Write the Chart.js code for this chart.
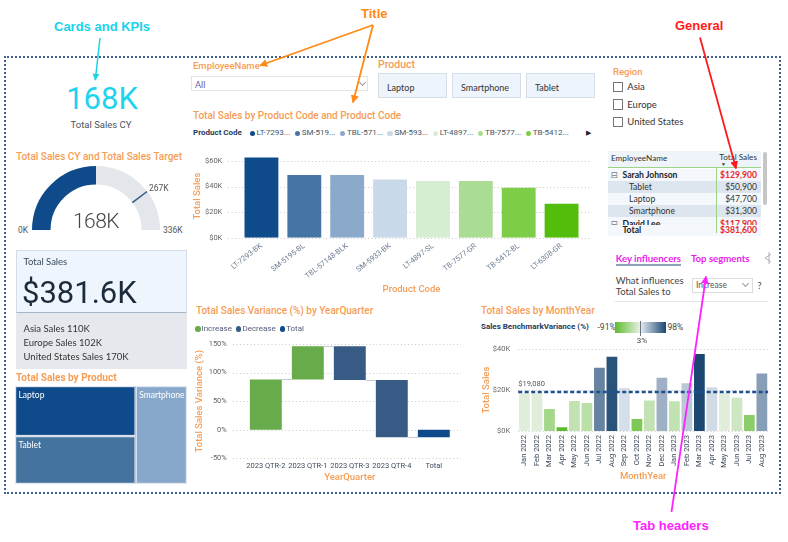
<!DOCTYPE html>
<html><head><meta charset="utf-8">
<script src="https://cdn.jsdelivr.net/npm/chart.js@4.4.1/dist/chart.umd.min.js"></script>
<style>
html,body{margin:0;padding:0;background:#fff;}
body{width:788px;height:542px;position:relative;overflow:hidden;font-family:Lato,'Open Sans',sans-serif;color:#333;}
.t{position:absolute;white-space:nowrap;line-height:1;transform:translateY(-50%);}
canvas{position:absolute;}
.box{position:absolute;box-sizing:border-box;}
.chev{position:absolute;width:4px;height:4px;border-right:1px solid #999;border-bottom:1px solid #999;transform:rotate(45deg);}
</style></head><body>
<div class="box" style="left:4px;top:56px;width:777px;height:438px;border:2px dotted #3f5f8c;"></div>
<canvas id="cGauge" width="128" height="64" style="left:32px;top:166px"></canvas>
<canvas id="cTree" width="172" height="98" style="left:15px;top:386px"></canvas>
<canvas id="cBar" width="410" height="145" style="left:190px;top:150px"></canvas>
<canvas id="cWf" width="285" height="146" style="left:190px;top:337px"></canvas>
<canvas id="cMon" width="300" height="142" style="left:475px;top:340px"></canvas>
<script>
// ================= DATA =================
const salesCY = 168;            // K
const salesTarget = 267;        // K
const gaugeMax = 336;           // K
const totalSales = 381.6;       // K
const regions = ['Asia', 'Europe', 'United States'];
const regionSales = [110, 102, 170];           // K
const products = ['Laptop', 'Tablet', 'Smartphone'];
const productSales = [137, 131, 114];          // K
const employeeFilter = 'All';
const productCodes = ['LT-7293-BK', 'SM-5195-BL', 'TBL-57148-BLK', 'SM-5933-BK', 'LT-4897-SL', 'TB-7577-GR', 'TB-5412-BL', 'LT-6308-GR'];
const productCodeSales = [62800, 49000, 49000, 45600, 44300, 44300, 39000, 26600];
const legendCodes = ['LT-7293...', 'SM-519...', 'TBL-571...', 'SM-593...', 'LT-4897...', 'TB-7577...', 'TB-5412...'];
const salesTicks = [0, 20000, 40000, 60000];
const quarters = ['2023 QTR-2', '2023 QTR-1', '2023 QTR-3', '2023 QTR-4'];
const quarterVariance = [88, 58, -59, -100];   // %
const varianceTicks = [-50, 0, 50, 100, 150];
const months = ['Jan 2022', 'Feb 2022', 'Mar 2022', 'Apr 2022', 'May 2022', 'Jun 2022', 'Jul 2022', 'Aug 2022', 'Sep 2022', 'Oct 2022', 'Nov 2022', 'Dec 2022', 'Jan 2023', 'Feb 2023', 'Mar 2023', 'Apr 2023', 'May 2023', 'Jun 2023', 'Jul 2023', 'Aug 2023'];
const monthSales = [18500, 18500, 10800, 1800, 14700, 13700, 31000, 36400, 21000, 5900, 14900, 26100, 14600, 23400, 37700, 21400, 18500, 16300, 7800, 28100];
const monthTicks = [0, 20000, 40000];
const salesBenchmark = 19080;
const benchmarkMid = 3;                         // %
const employeeNames = ['Sarah Johnson', 'David Lee'];
const employeeSales = [129900, 117900];
const sarahProducts = ['Tablet', 'Laptop', 'Smartphone'];
const sarahProductSales = [50900, 47700, 31300];
const tableTotal = 381600;

// ================= STYLE =================
Chart.defaults.font.family = 'Roboto, sans-serif';
Chart.defaults.color = '#666';
const ORANGE = '#f59d56';
const NAVY = '#0f4a8a';
const codeColors = ['#0f4a8a', '#4675a3', '#8aa9cb', '#c9d9ea', '#d6ecd3', '#abdc93', '#7ecd48', '#52bd0b'];
const INC = '#67ab4a', DEC = '#375b84', TOT = '#0f4a8a';
const treeColors = ['#0f4a8a', '#44739f', '#88a8cb'];

function T(x, y, s, css) { const d = document.createElement('div'); d.className = 't'; d.textContent = s; d.style.left = x + 'px'; d.style.top = y + 'px'; if (css) d.style.cssText += ';' + css; document.body.appendChild(d); return d; }
function B(x, y, w, h, css) { const d = document.createElement('div'); d.className = 'box'; d.style.left = x + 'px'; d.style.top = y + 'px'; d.style.width = w + 'px'; d.style.height = h + 'px'; if (css) d.style.cssText += ';' + css; document.body.appendChild(d); return d; }
function chev(x, y) { const d = document.createElement('div'); d.className = 'chev'; d.style.left = x + 'px'; d.style.top = y + 'px'; document.body.appendChild(d); }
const usd = v => '$' + v.toLocaleString('en-US');
const TTL = 'font-family:Roboto;font-weight:500;color:' + ORANGE + ';';

// ================= KPI / CARDS =================
T(102, 98, salesCY + 'K', 'font-family:Roboto;font-size:31px;color:#1fd3ee;transform:translate(-50%,-50%)');
T(101, 125, 'Total Sales CY', 'font-family:Roboto;font-size:9.5px;color:#4a5462;transform:translate(-50%,-50%)');
T(16, 157, 'Total Sales CY and Total Sales Target', TTL + 'font-size:10px');
T(18, 230, '0K', 'font-family:Roboto;font-size:8.5px;color:#555');
T(163, 230, gaugeMax + 'K', 'font-family:Roboto;font-size:8.5px;color:#555');
T(149, 188, salesTarget + 'K', 'font-family:Roboto;font-size:8.5px;color:#555');
T(96, 221, salesCY + 'K', 'font-family:Roboto;font-weight:300;font-size:21px;letter-spacing:-0.5px;color:#444;transform:translate(-50%,-50%)');

B(15.5, 250, 171, 63, 'background:#eef5fc;border:1px solid #d4dde7;border-bottom:1.5px solid #a9b6c4');
B(15.5, 313, 171, 56, 'background:#e5e8ec');
T(23.5, 262, 'Total Sales', 'font-size:9.5px;color:#3b4a5a');
T(22, 292, '$' + totalSales + 'K', 'font-family:Roboto;font-size:31px;color:#1c2b3b');
regions.forEach((r, i) => T(23.5, 329.3 + 14 * i, r + ' Sales ' + regionSales[i] + 'K', 'font-size:9.5px;color:#333'));
T(16, 378, 'Total Sales by Product', TTL + 'font-size:10px;font-weight:700');

// ================= SLICERS =================
T(193, 66, 'EmployeeName', TTL + 'font-size:9.5px');
B(191, 76, 177, 15, 'border:1px solid #e3e3e3;background:#fff');
T(195, 84, employeeFilter, 'font-size:9px;color:#6f5a9e');
chev(360, 80);
T(378, 64.5, 'Product', TTL + 'font-size:10.5px');
[...products].sort().forEach((p, i) => {
  B(378 + 74 * i, 72.7, 69, 25.6, 'background:#eef4fb;border:1.5px solid #d5dde6');
  T(387 + 74 * i, 87, p, 'font-size:9px;color:#333');
});
T(613, 72, 'Region', TTL + 'font-size:9.5px');
regions.forEach((r, i) => {
  B(612.7, 81.5 + 17.5 * i, 10.5, 10.5, 'border:1px solid #777;background:#fff');
  T(627.3, 87 + 17.5 * i, r, 'font-size:9.5px;color:#333');
});

// ================= TABLE =================
B(607.5, 150.7, 153.5, 16.5, 'background:#eef4fa');
T(611, 158, 'EmployeeName', 'font-size:8.2px;color:#333');
T(757, 157, 'Total Sales', 'font-size:8.2px;color:#333;transform:translate(-100%,-50%)');
T(721, 163.5, '▼', 'font-size:5px;color:#333');
const rows = [];
rows.push({ label: employeeNames[0], val: employeeSales[0], lvl: 0 });
sarahProducts.forEach((p, i) => rows.push({ label: p, val: sarahProductSales[i], lvl: 1 }));
rows.push({ label: employeeNames[1], val: employeeSales[1], lvl: 0 });
const tb = B(607.5, 168.5, 153.5, 56.5, 'overflow:hidden');
rows.forEach((r, i) => {
  const row = document.createElement('div');
  row.style.cssText = 'position:absolute;left:0;top:' + (12.2 * i) + 'px;width:153.5px;height:12.2px;background:' + (i % 2 ? '#dde6ef' : '#f4f8fc');
  tb.appendChild(row);
  const mk = (x, s, css) => { const d = document.createElement('div'); d.className = 't'; d.style.left = x + 'px'; d.style.top = '6.3px'; d.textContent = s; d.style.cssText += ';' + css; row.appendChild(d); };
  if (r.lvl === 0) { mk(3, '⊟', 'font-family:"DejaVu Sans";font-size:8.5px;color:#777'); mk(15, r.label, 'font-size:8.6px;font-weight:700;color:#222'); mk(149.5, usd(r.val), 'font-size:8.6px;font-weight:700;color:#e8262b;transform:translate(-100%,-50%)'); }
  else { mk(21.5, r.label, 'font-size:8.6px;color:#333'); mk(149.5, usd(r.val), 'font-size:8.6px;color:#333;transform:translate(-100%,-50%)'); }
});
B(607.5, 225, 153.5, 10.5, 'background:#f4f8fc');
T(622.5, 230, 'Total', 'font-size:8.6px;font-weight:700;color:#222');
T(757, 230, usd(tableTotal), 'font-size:8.6px;font-weight:700;color:#e8262b;transform:translate(-100%,-50%)');
B(607.5, 167, 153.5, 1.3, 'background:#9bd485');
B(716.2, 167, 1.3, 66, 'background:#9bd485');
B(763.3, 151.7, 3.4, 53.3, 'background:#c6c6c6;border-radius:2px');

// ================= KEY INFLUENCERS =================
T(615.7, 259.3, 'Key influencers', 'font-size:9.6px;font-weight:700;color:#e81ee8');
B(615.5, 263.5, 65.5, 2, 'background:#8ea3b8');
T(691, 259.3, 'Top segments', 'font-size:9.6px;font-weight:700;color:#e81ee8');
T(615.7, 280.7, 'What influences', 'font-size:9.5px;color:#444');
T(615.7, 291.7, 'Total Sales to', 'font-size:9.5px;color:#444');
B(692.3, 277.7, 60.4, 15, 'border:1px solid #dcdcdc;background:#fff');
T(696, 285.2, 'Increase', 'font-size:8.5px;color:#555');
chev(743, 281);
T(757.5, 285, '?', 'font-size:9px;color:#444');
B(615, 301, 153, 1, 'background:#e2e2e2');

// ================= CHART LEGENDS (HTML) =================
T(193, 116, 'Total Sales by Product Code and Product Code', TTL + 'font-size:10px');
T(193, 133, 'Product Code', 'font-family:Roboto;font-weight:700;font-size:8px;color:#1f3a5c');
(function () {
  let x = 249.5;
  legendCodes.forEach((s, i) => {
    B(x, 130.5, 5.5, 5.5, 'border-radius:50%;background:' + codeColors[i]);
    const d = T(x + 7, 133.2, s, 'font-family:Roboto;font-size:8px;color:#4b5563');
    x = x + 7 + d.getBoundingClientRect().width + 4.5;
  });
})();
T(585.5, 133, '▶', 'font-size:6.5px;color:#222');

T(196, 311, 'Total Sales Variance (%) by YearQuarter', TTL + 'font-size:10px');
(function () {
  let x = 195;
  [['Increase', INC], ['Decrease', DEC], ['Total', TOT]].forEach(([s, c]) => {
    B(x, 326.3, 5.5, 5.5, 'border-radius:50%;background:' + c);
    const d = T(x + 6.5, 329.2, s, 'font-family:Roboto;font-size:8px;color:#55597a');
    x = x + 6.5 + d.getBoundingClientRect().width + 4;
  });
})();

T(481, 311, 'Total Sales by MonthYear', TTL + 'font-size:10px');
const monthVar = monthSales.map(v => (v - salesBenchmark) / salesBenchmark * 100);
const vMin = Math.min(...monthVar), vMax = Math.max(...monthVar);
T(481, 327, 'Sales BenchmarkVariance (%)', 'font-family:Roboto;font-weight:700;font-size:8px;color:#1f3a5c');
T(597.5, 327, Math.round(vMin) + '%', 'font-family:Roboto;font-size:8.5px;color:#444');
T(667.5, 327, Math.round(vMax) + '%', 'font-family:Roboto;font-size:8.5px;color:#444');
const midPos = (benchmarkMid - vMin) / (vMax - vMin) * 100;
B(615, 321.7, 51, 11.6, 'background:linear-gradient(90deg,#5cbd2a 0%,#e9f0e6 ' + midPos + '%,#e6ecf3 ' + midPos + '%,#1c4770 100%)');
B(615 + 51 * midPos / 100 - 0.6, 321, 1.2, 14.5, 'background:#6a7480');
T(642, 340.5, benchmarkMid + '%', 'font-family:Roboto;font-size:8px;color:#444;transform:translate(-50%,-50%)');

// ================= PLUGINS / HELPERS =================
const extGrid = {
  id: 'extGrid',
  beforeDatasetsDraw(chart, args, o) {
    const { ctx, chartArea: a, scales: { y } } = chart;
    ctx.save(); ctx.strokeStyle = '#c9c9c9'; ctx.lineWidth = 1; ctx.setLineDash([1, 2.5]);
    y.ticks.forEach(t => { const py = Math.round(y.getPixelForValue(t.value)) + 0.5; ctx.beginPath(); ctx.moveTo(a.left - (o.l || 0), py); ctx.lineTo(a.right + (o.r || 0), py); ctx.stroke(); });
    ctx.restore();
  }
};
const useTicks = arr => s => { s.ticks = arr.map(v => ({ value: v })); };
const fixY = w => s => { s.width = w; s.paddingTop = 0; s.paddingBottom = 0; };
const xAxis = (title, h, rot, pad, color) => ({
  grid: { display: false, drawTicks: false }, border: { display: false },
  ticks: { autoSkip: false, minRotation: rot, maxRotation: rot, padding: pad, font: { size: 7.5 }, color },
  title: { display: true, text: title, color: ORANGE, font: { size: 9.5, weight: 500 }, padding: 0 },
  afterFit(s) { s.height = h; }
});

// ================= GAUGE =================
new Chart(document.getElementById('cGauge'), {
  type: 'doughnut',
  data: { datasets: [{ data: [salesCY, gaugeMax - salesCY], backgroundColor: [NAVY, '#e3e7ec'], borderWidth: 0 }] },
  options: { responsive: false, animation: false, rotation: -90, circumference: 180, cutout: '71%', layout: { padding: 0 }, plugins: { legend: { display: false }, tooltip: { enabled: false } } },
  plugins: [{
    id: 'target', afterDatasetsDraw(chart) {
      const arc = chart.getDatasetMeta(0).data[0]; const ctx = chart.ctx;
      const ang = Math.PI + Math.PI * salesTarget / gaugeMax;
      ctx.save(); ctx.strokeStyle = '#34577f'; ctx.lineWidth = 1.5; ctx.beginPath();
      ctx.moveTo(arc.x + Math.cos(ang) * arc.innerRadius, arc.y + Math.sin(ang) * arc.innerRadius);
      ctx.lineTo(arc.x + Math.cos(ang) * arc.outerRadius, arc.y + Math.sin(ang) * arc.outerRadius);
      ctx.stroke(); ctx.restore();
    }
  }]
});

// ================= TREEMAP =================
const treeColumns = [[0, 1], [2]];
new Chart(document.getElementById('cTree'), {
  type: 'scatter',
  data: { datasets: [{ data: [] }] },
  options: {
    responsive: false, animation: false, layout: { padding: 0 },
    plugins: { legend: { display: false }, tooltip: { enabled: false } },
    scales: { x: { type: 'linear', min: 0, max: 1, display: false }, y: { min: 0, max: 1, reverse: true, display: false } }
  },
  plugins: [{
    id: 'tree', afterDraw(chart) {
      const { ctx, scales: { x, y } } = chart;
      const total = productSales.reduce((a, b) => a + b, 0);
      let cx = 0;
      ctx.save();
      treeColumns.forEach(g => {
        const gs = g.reduce((a, i) => a + productSales[i], 0);
        const w = gs / total; let cy = 0;
        g.forEach(i => {
          const h = productSales[i] / gs;
          const x0 = x.getPixelForValue(cx), x1 = x.getPixelForValue(cx + w);
          const y0 = y.getPixelForValue(cy), y1 = y.getPixelForValue(cy + h);
          ctx.fillStyle = treeColors[i]; ctx.fillRect(x0, y0, x1 - x0, y1 - y0);
          ctx.strokeStyle = '#dfe6ef'; ctx.lineWidth = 1.2; ctx.strokeRect(x0 + 0.6, y0 + 0.6, x1 - x0 - 1.2, y1 - y0 - 1.2);
          ctx.fillStyle = '#fff'; ctx.font = '8.5px Lato'; ctx.textBaseline = 'middle'; ctx.fillText(products[i], x0 + 3.5, y0 + 9.5);
          cy += h;
        });
        cx += w;
      });
      ctx.restore();
    }
  }]
});

// ================= BAR: PRODUCT CODE =================
new Chart(document.getElementById('cBar'), {
  type: 'bar',
  data: { labels: productCodes, datasets: [{ data: productCodeSales, backgroundColor: codeColors, barPercentage: 0.79, categoryPercentage: 1 }] },
  options: {
    responsive: false, animation: false,
    layout: { padding: { top: 4.6, right: 17, left: 0, bottom: 0 } },
    plugins: { legend: { display: false }, tooltip: { enabled: false }, extGrid: { l: 12, r: 7 } },
    scales: {
      x: xAxis('Product Code', 57.3, 38, 4, '#6b7a8f'),
      y: {
        min: 0, max: 65000, afterBuildTicks: useTicks(salesTicks),
        ticks: { callback: v => '$' + v / 1000 + 'K', padding: 17.7, font: { size: 7.5 }, color: '#666' },
        grid: { display: false, drawTicks: false }, border: { display: false },
        title: { display: true, text: 'Total Sales', color: ORANGE, font: { size: 9.5, weight: 500 }, padding: { top: 2.3, bottom: 0 } },
        afterFit: fixY(50)
      }
    }
  },
  plugins: [extGrid]
});

// ================= WATERFALL =================
const wfLabels = [...quarters, 'Total'];
const wfBars = []; let run = 0;
quarterVariance.forEach(v => { wfBars.push([run, run + v]); run += v; });
wfBars.push([0, run]);
const wfColors = quarterVariance.map(v => v >= 0 ? INC : DEC).concat([TOT]);
new Chart(document.getElementById('cWf'), {
  type: 'bar',
  data: { labels: wfLabels, datasets: [{ data: wfBars, backgroundColor: wfColors, barPercentage: 0.76, categoryPercentage: 1 }] },
  options: {
    responsive: false, animation: false,
    layout: { padding: { top: 7, right: 20.2, left: 0, bottom: 0 } },
    plugins: { legend: { display: false }, tooltip: { enabled: false }, extGrid: { l: 11.8, r: 6.2 } },
    scales: {
      x: xAxis('YearQuarter', 24.7, 0, 3, '#3d4a5c'),
      y: {
        min: -50, max: 150, afterBuildTicks: useTicks(varianceTicks),
        ticks: { callback: v => v + '%', padding: 18, font: { size: 7.5 }, color: '#666' },
        grid: { display: false, drawTicks: false }, border: { display: false },
        title: { display: true, text: 'Total Sales Variance (%)', color: ORANGE, font: { size: 9.5, weight: 500 }, padding: { top: 4, bottom: 0 } },
        afterFit: fixY(54.8)
      }
    }
  },
  plugins: [extGrid, {
    id: 'conn', afterDatasetsDraw(chart) {
      const m = chart.getDatasetMeta(0).data, y = chart.scales.y, ctx = chart.ctx;
      ctx.save(); ctx.strokeStyle = '#c5cbd2'; ctx.lineWidth = 1;
      for (let i = 0; i < m.length - 1; i++) {
        const py = Math.round(y.getPixelForValue(wfBars[i][1])) + 0.5;
        ctx.beginPath(); ctx.moveTo(m[i].x + m[i].width / 2, py); ctx.lineTo(m[i + 1].x - m[i + 1].width / 2, py); ctx.stroke();
      }
      ctx.restore();
    }
  }]
});

// ================= MONTH CHART =================
function mix(a, b, t) { return 'rgb(' + a.map((v, i) => Math.round(v + (b[i] - v) * t)).join(',') + ')'; }
const cG = [92, 189, 42], cMidG = [233, 240, 230], cMidB = [228, 235, 243], cN = [28, 71, 112];
const monthColors = monthVar.map(p => p < benchmarkMid ? mix(cMidG, cG, (benchmarkMid - p) / (benchmarkMid - vMin)) : mix(cMidB, cN, (p - benchmarkMid) / (vMax - benchmarkMid)));
new Chart(document.getElementById('cMon'), {
  type: 'bar',
  data: { labels: months, datasets: [{ data: monthSales, backgroundColor: monthColors, barPercentage: 0.86, categoryPercentage: 1 }] },
  options: {
    responsive: false, animation: false,
    layout: { padding: { top: 9.3, right: 5.6, left: 0, bottom: 0 } },
    plugins: { legend: { display: false }, tooltip: { enabled: false }, extGrid: { l: 0, r: 0 } },
    scales: {
      x: xAxis('MonthYear', 51, 90, 4, '#3d4a5c'),
      y: {
        min: 0, max: 40000, afterBuildTicks: useTicks(monthTicks),
        ticks: { callback: v => '$' + v / 1000 + 'K', padding: 8, font: { size: 7.5 }, color: '#666' },
        grid: { display: false, drawTicks: false }, border: { display: false },
        title: { display: true, text: 'Total Sales', color: ORANGE, font: { size: 9.5, weight: 500 }, padding: { top: 6, bottom: 0 } },
        afterFit: fixY(43.2)
      }
    }
  },
  plugins: [extGrid, {
    id: 'bench', afterDatasetsDraw(chart) {
      const { ctx, chartArea: a, scales: { y } } = chart;
      const py = y.getPixelForValue(salesBenchmark);
      ctx.save(); ctx.strokeStyle = '#1f4f8f'; ctx.lineWidth = 2.5; ctx.setLineDash([4, 2.5]);
      ctx.beginPath(); ctx.moveTo(a.left, py); ctx.lineTo(a.right, py); ctx.stroke();
      ctx.fillStyle = '#555'; ctx.font = '7.5px Roboto'; ctx.textBaseline = 'middle';
      ctx.fillText(usd(salesBenchmark), a.left, py - 8);
      ctx.restore();
    }
  }]
});
</script>

<!-- ================= ANNOTATIONS ================= -->
<div class="t" style="left:54px;top:26px;font-family:'Liberation Sans',Arial,sans-serif;font-weight:700;font-size:13px;color:#1ad3ea">Cards and KPIs</div>
<div class="t" style="left:361px;top:13px;font-family:'Liberation Sans',Arial,sans-serif;font-weight:700;font-size:13px;color:#ff8a14">Title</div>
<div class="t" style="left:675px;top:25px;font-family:'Liberation Sans',Arial,sans-serif;font-weight:700;font-size:13px;color:#ff1a1a">General</div>
<div class="t" style="left:633px;top:525px;font-family:'Liberation Sans',Arial,sans-serif;font-weight:700;font-size:13px;color:#ff22ff">Tab headers</div>
<svg width="788" height="542" style="position:absolute;left:0;top:0;z-index:10;pointer-events:none">
  <defs>
    <marker id="mc" viewBox="0 0 10 10" refX="9" refY="5" markerWidth="7" markerHeight="7" markerUnits="userSpaceOnUse" orient="auto"><path d="M0,0 L10,5 L0,10 z" fill="#1ad3ea"/></marker>
    <marker id="mo" viewBox="0 0 10 10" refX="9" refY="5" markerWidth="8" markerHeight="8" markerUnits="userSpaceOnUse" orient="auto"><path d="M0,0 L10,5 L0,10 z" fill="#ff8a14"/></marker>
    <marker id="mr" viewBox="0 0 10 10" refX="9" refY="5" markerWidth="8" markerHeight="8" markerUnits="userSpaceOnUse" orient="auto"><path d="M0,0 L10,5 L0,10 z" fill="#ff1a1a"/></marker>
    <marker id="mm" viewBox="0 0 10 10" refX="9" refY="5" markerWidth="8" markerHeight="8" markerUnits="userSpaceOnUse" orient="auto"><path d="M0,0 L10,5 L0,10 z" fill="#ff22ff"/></marker>
  </defs>
  <line x1="100" y1="38" x2="95.3" y2="80" stroke="#1ad3ea" stroke-width="1.5" marker-end="url(#mc)"/>
  <line x1="373" y1="25" x2="260" y2="65.5" stroke="#ff8a14" stroke-width="1.8" marker-end="url(#mo)"/>
  <line x1="373" y1="25" x2="353" y2="102.5" stroke="#ff8a14" stroke-width="1.8" marker-end="url(#mo)"/>
  <line x1="700" y1="37.5" x2="736" y2="168.5" stroke="#ff1a1a" stroke-width="1.8" marker-end="url(#mr)"/>
  <line x1="671.5" y1="512" x2="706" y2="276.5" stroke="#ff22ff" stroke-width="1.8" marker-end="url(#mm)"/>
  <path d="M771,254 L765,258 L771,262 M769,252 L769,264" stroke="#b0b0b0" stroke-width="1" fill="none"/>
</svg>
</body></html>
